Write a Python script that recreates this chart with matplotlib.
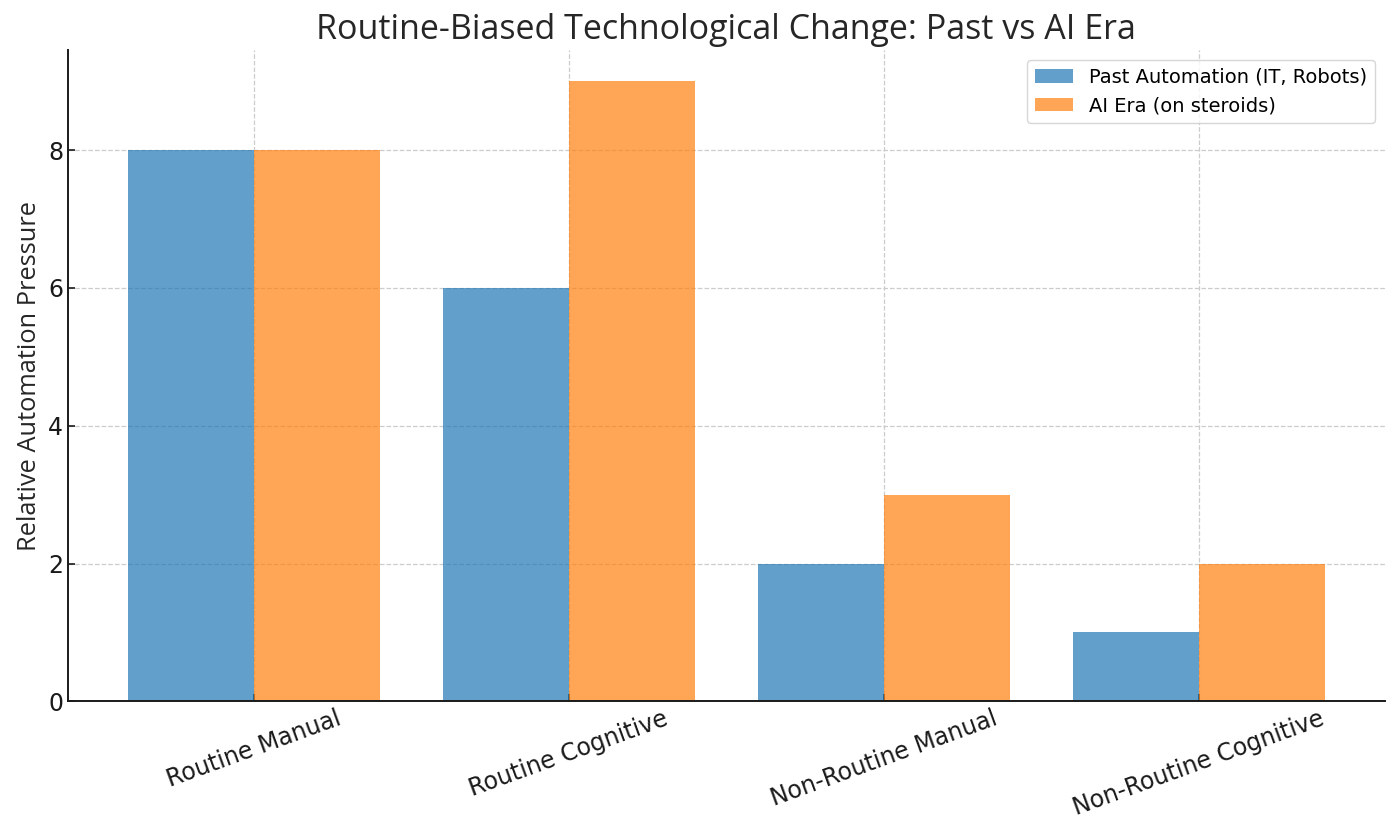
import numpy as np
import matplotlib.pyplot as plt

plt.rcParams['font.family'] = ['DejaVu Sans']

categories = ['Routine Manual', 'Routine Cognitive', 'Non-Routine Manual', 'Non-Routine Cognitive']
past_automation = [8, 6, 2, 1]
ai_era = [8, 9, 3, 2]

x = np.arange(len(categories))
width = 0.4

fig, ax = plt.subplots(figsize=(14, 8.35), dpi=100)
fig.subplots_adjust(left=0.0486, right=0.989, top=0.940, bottom=0.160)

ax.bar(x - width / 2, past_automation, width, color='#1f77b4', alpha=0.7,
       label='Past Automation (IT, Robots)')
ax.bar(x + width / 2, ai_era, width, color='#ff7f0e', alpha=0.7,
       label='AI Era (on steroids)')

ax.set_title('Routine-Biased Technological Change: Past vs AI Era',
             fontsize=24.5, color='#262626', family=['Open Sans', 'DejaVu Sans'], pad=8)
ax.set_ylabel('Relative Automation Pressure', fontsize=18.3, color='#262626',
              family=['Open Sans', 'DejaVu Sans'])
ax.set_xticks(x)
ax.set_xticklabels(categories, rotation=20, fontsize=17)
ax.tick_params(axis='y', labelsize=17)
ax.tick_params(direction='in', length=5, width=1.2, colors='#1a1a1a')

ax.grid(True, linestyle='--', color='#cccccc', linewidth=0.9)
ax.set_axisbelow(True)
for s in ['top', 'right']:
    ax.spines[s].set_visible(False)
for s in ['left', 'bottom']:
    ax.spines[s].set_linewidth(1.4)
    ax.spines[s].set_color('#1a1a1a')

leg = ax.legend(loc='upper right', fontsize=14, frameon=True, fancybox=True)
leg.get_frame().set_edgecolor('#cccccc')

plt.savefig('out.png')
